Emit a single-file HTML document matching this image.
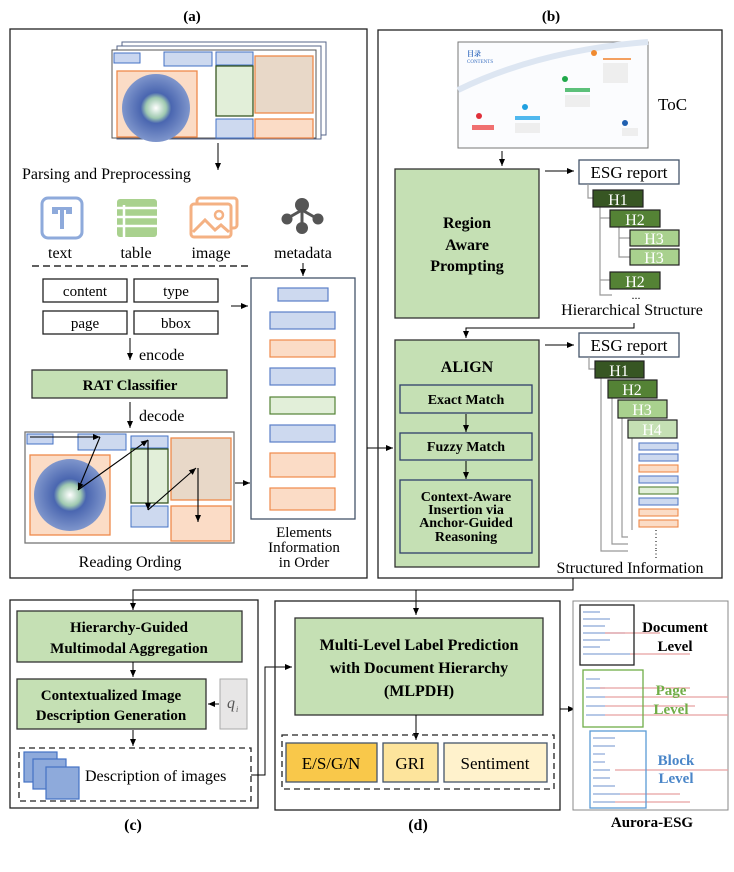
<!DOCTYPE html>
<html><head><meta charset="utf-8"><style>
html,body{margin:0;padding:0;background:#fff;}
svg{display:block;font-family:"Liberation Serif","Noto Serif CJK SC",serif;}
</style></head><body>
<svg width="734" height="872" viewBox="0 0 734 872" xmlns="http://www.w3.org/2000/svg">
<defs>
<marker id="ar" markerWidth="8" markerHeight="8" refX="7" refY="4" orient="auto" markerUnits="userSpaceOnUse">
<path d="M0,1 L7,4 L0,7 z" fill="#000"/></marker>
<radialGradient id="rg"><stop offset="0" stop-color="#fff"/><stop offset="0.3" stop-color="#9fc9b0"/><stop offset="0.45" stop-color="#4a66b0"/><stop offset="1" stop-color="#7f96cc"/></radialGradient>
</defs>
<g fill="none" stroke="#000" stroke-width="1.2">
<!-- panel labels -->
</g>
<text x="192" y="21" font-size="15" font-weight="bold" text-anchor="middle">(a)</text>
<text x="551" y="21" font-size="15" font-weight="bold" text-anchor="middle">(b)</text>
<!-- panel a -->
<rect x="10" y="29" width="357" height="549" fill="none" stroke="#222" stroke-width="1.3"/>
<!-- page stack -->
<rect x="122" y="42" width="204" height="93" fill="#fff" stroke="#56648a" stroke-width="1"/>
<rect x="117" y="46" width="204" height="93" fill="#fff" stroke="#56648a" stroke-width="1"/>
<rect x="112" y="50" width="204" height="88" fill="#fff" stroke="#555" stroke-width="1"/>
<rect x="114" y="53" width="26" height="10" fill="#c9d6f0" stroke="#4472c4"/>
<rect x="164" y="52" width="48" height="14" fill="#cdd9ef" stroke="#4472c4"/>
<rect x="117" y="71" width="80" height="66" fill="#fbdcc6" stroke="#ef8a4a" stroke-width="1.3"/>
<circle cx="156" cy="108" r="34" fill="url(#rg)"/>
<rect x="216" y="52" width="37" height="13" fill="#cdd9ef" stroke="#4472c4"/>
<rect x="216" y="66" width="37" height="50" fill="#e2efd9" stroke="#385723" stroke-width="1.3"/>
<rect x="216" y="119" width="37" height="19" fill="#cdd9ef" stroke="#4472c4"/>
<rect x="255" y="56" width="58" height="57" fill="#e8d8c8" stroke="#ef8a4a" stroke-width="1.3"/>
<rect x="255" y="119" width="58" height="19" fill="#fbdcc6" stroke="#ef8a4a" stroke-width="1.3"/>
<line x1="218" y1="143" x2="218" y2="170" stroke="#000" marker-end="url(#ar)"/>
<text x="22" y="179" font-size="16">Parsing and Preprocessing</text>
<!-- icons -->
<rect x="42" y="198" width="40" height="40" rx="6" fill="#fff" stroke="#8eaadb" stroke-width="3"/>
<path d="M52,207 H72 V214 H66 V210 H64 V229 H60 V210 H58 V214 H52 Z" fill="#8eaadb"/>
<rect x="117" y="199" width="40" height="38" rx="3" fill="#a9d18e"/>
<g stroke="#fff" stroke-width="2.5"><line x1="117" y1="208" x2="157" y2="208"/><line x1="117" y1="217" x2="157" y2="217"/><line x1="117" y1="226" x2="157" y2="226"/><line x1="124" y1="205" x2="124" y2="237"/></g>
<rect x="197" y="198" width="40" height="30" rx="3" fill="none" stroke="#f4b183" stroke-width="3"/>
<rect x="191" y="204" width="40" height="33" rx="3" fill="#fff" stroke="#f4b183" stroke-width="3"/>
<path d="M193,232 L205,220 L215,230 L221,225 L229,232" fill="none" stroke="#f4b183" stroke-width="3"/>
<circle cx="219" cy="215" r="4" fill="none" stroke="#f4b183" stroke-width="2.5"/>
<circle cx="302" cy="205" r="7" fill="#555"/><line x1="302" y1="210" x2="288" y2="218" stroke="#555" stroke-width="3"/><line x1="302" y1="210" x2="316" y2="218" stroke="#555" stroke-width="3"/><line x1="302" y1="210" x2="302" y2="225" stroke="#555" stroke-width="3"/>
<circle cx="287" cy="219" r="5.5" fill="#555"/><circle cx="318" cy="219" r="5.5" fill="#555"/><circle cx="302" cy="228" r="6" fill="#555"/>
<text x="60" y="258" font-size="16" text-anchor="middle">text</text>
<text x="136" y="258" font-size="16" text-anchor="middle">table</text>
<text x="211" y="258" font-size="16" text-anchor="middle">image</text>
<text x="303" y="258" font-size="16" text-anchor="middle">metadata</text>
<line x1="32" y1="266" x2="250" y2="266" stroke="#000" stroke-width="1.3" stroke-dasharray="7,4"/>
<line x1="303" y1="263" x2="303" y2="276" stroke="#000" marker-end="url(#ar)"/>
<g fill="#fff" stroke="#222" stroke-width="1.3">
<rect x="43" y="279" width="84" height="23"/><rect x="134" y="279" width="84" height="23"/>
<rect x="43" y="311" width="84" height="23"/><rect x="134" y="311" width="84" height="23"/></g>
<g font-size="15" text-anchor="middle"><text x="85" y="296">content</text><text x="176" y="296">type</text><text x="85" y="328">page</text><text x="176" y="328">bbox</text></g>
<line x1="231" y1="306" x2="248" y2="306" stroke="#000" marker-end="url(#ar)"/>
<line x1="130" y1="338" x2="130" y2="360" stroke="#000" marker-end="url(#ar)"/>
<text x="139" y="360" font-size="16">encode</text>
<rect x="32" y="370" width="195" height="28" fill="#c5e0b4" stroke="#333" stroke-width="1.3"/>
<text x="130" y="390" font-size="15" font-weight="bold" text-anchor="middle">RAT Classifier</text>
<line x1="130" y1="402" x2="130" y2="428" stroke="#000" marker-end="url(#ar)"/>
<text x="139" y="421" font-size="16">decode</text>
<!-- reading order image -->
<rect x="25" y="432" width="209" height="111" fill="#fff" stroke="#777" stroke-width="1.3"/>
<rect x="27" y="434" width="26" height="10" fill="#c9d6f0" stroke="#4472c4"/>
<rect x="78" y="434" width="48" height="16" fill="#cdd9ef" stroke="#4472c4"/>
<rect x="30" y="455" width="80" height="80" fill="#fbdcc6" stroke="#ef8a4a" stroke-width="1.3"/>
<circle cx="70" cy="495" r="36" fill="url(#rg)"/>
<rect x="131" y="436" width="37" height="12" fill="#cdd9ef" stroke="#4472c4"/>
<rect x="131" y="449" width="37" height="54" fill="#e2efd9" stroke="#385723" stroke-width="1.3"/>
<rect x="131" y="506" width="37" height="21" fill="#cdd9ef" stroke="#4472c4"/>
<rect x="171" y="438" width="60" height="62" fill="#e8d8c8" stroke="#ef8a4a" stroke-width="1.3"/>
<rect x="171" y="506" width="60" height="35" fill="#fbdcc6" stroke="#ef8a4a" stroke-width="1.3"/>
<g stroke="#000" stroke-width="1.1">
<line x1="30" y1="437" x2="100" y2="437" marker-end="url(#ar)"/>
<line x1="100" y1="437" x2="78" y2="490" marker-end="url(#ar)"/>
<line x1="78" y1="490" x2="148" y2="440" marker-end="url(#ar)"/>
<line x1="148" y1="440" x2="148" y2="510" marker-end="url(#ar)"/>
<line x1="148" y1="510" x2="196" y2="468" marker-end="url(#ar)"/>
<line x1="198" y1="468" x2="198" y2="522" marker-end="url(#ar)"/>
</g>
<line x1="235" y1="483" x2="250" y2="483" stroke="#000" marker-end="url(#ar)"/>
<text x="130" y="567" font-size="16" text-anchor="middle">Reading Ording</text>
<!-- elements -->
<rect x="251" y="278" width="104" height="241" fill="#fff" stroke="#44546a" stroke-width="1.3"/>
<rect x="278" y="288" width="50" height="13" fill="#cdd9ef" stroke="#5b7fc7" stroke-width="1.2"/>
<g stroke-width="1.2">
<rect x="270" y="312" width="65" height="17" fill="#cdd9ef" stroke="#5b7fc7"/>
<rect x="270" y="340" width="65" height="17" fill="#fbdcc6" stroke="#ef8a4a"/>
<rect x="270" y="368" width="65" height="17" fill="#cdd9ef" stroke="#5b7fc7"/>
<rect x="270" y="397" width="65" height="17" fill="#e2efd9" stroke="#548235"/>
<rect x="270" y="425" width="65" height="17" fill="#cdd9ef" stroke="#5b7fc7"/>
<rect x="270" y="453" width="65" height="24" fill="#fbdcc6" stroke="#ef8a4a"/>
<rect x="270" y="488" width="65" height="22" fill="#fbdcc6" stroke="#ef8a4a"/>
</g>
<g font-size="15" text-anchor="middle"><text x="304" y="537">Elements</text><text x="304" y="552">Information</text><text x="304" y="567">in Order</text></g>
<!-- a->b arrow -->
<line x1="367" y1="448" x2="393" y2="448" stroke="#000" marker-end="url(#ar)"/>
<!-- panel b -->
<rect x="378" y="30" width="344" height="548" fill="none" stroke="#222" stroke-width="1.3"/>
<rect x="458" y="42" width="190" height="106" fill="#fbfcfe" stroke="#777" stroke-width="1"/>
<path d="M458,90 Q540,50 648,42" fill="none" stroke="#dde6f2" stroke-width="6"/>
<text x="467" y="56" font-size="7" fill="#3a6fc0" font-weight="bold">目录</text>
<text x="467" y="63" font-size="5" fill="#3a6fc0">CONTENTS</text>
<circle cx="594" cy="53" r="3" fill="#f08a30"/><rect x="603" y="58" width="28" height="2" fill="#f3a060"/><rect x="603" y="63" width="25" height="20" fill="#eee"/>
<circle cx="565" cy="79" r="3" fill="#20a84a"/><rect x="565" y="88" width="25" height="4" fill="#5cc07a"/><rect x="565" y="95" width="25" height="12" fill="#eee"/>
<circle cx="479" cy="116" r="3" fill="#e0303a"/><rect x="472" y="125" width="22" height="5" fill="#f07070"/>
<circle cx="525" cy="107" r="3" fill="#20a0e0"/><rect x="515" y="116" width="25" height="4" fill="#50b8ee"/><rect x="515" y="123" width="25" height="10" fill="#eee"/>
<circle cx="625" cy="123" r="3" fill="#2060b0"/><rect x="622" y="128" width="16" height="8" fill="#eee"/>
<text x="658" y="110" font-size="17">ToC</text>
<line x1="502" y1="151" x2="502" y2="166" stroke="#000" marker-end="url(#ar)"/>
<rect x="395" y="169" width="144" height="149" fill="#c5e0b4" stroke="#333" stroke-width="1.3"/>
<g font-size="16" font-weight="bold" text-anchor="middle"><text x="467" y="228">Region</text><text x="467" y="250">Aware</text><text x="467" y="271">Prompting</text></g>
<line x1="545" y1="171" x2="574" y2="171" stroke="#000" marker-end="url(#ar)"/>
<rect x="579" y="160" width="100" height="24" fill="#fff" stroke="#44546a" stroke-width="1.3"/>
<text x="629" y="178" font-size="17" text-anchor="middle">ESG report</text>
<g fill="none" stroke="#999" stroke-width="1.2">
<path d="M588,184 V198 H593"/><path d="M600,207 V295 H612"/><path d="M600,218 H610"/><path d="M600,280 H610"/><path d="M619,227 V257 H630"/><path d="M619,238 H630"/>
</g>
<g stroke="#222" stroke-width="1.2">
<rect x="593" y="190" width="50" height="17" fill="#375623"/>
<rect x="610" y="210" width="50" height="17" fill="#548235"/>
<rect x="630" y="230" width="49" height="16" fill="#a9d18e"/>
<rect x="630" y="249" width="49" height="16" fill="#a9d18e"/>
<rect x="610" y="272" width="50" height="17" fill="#548235"/>
</g>
<g font-size="16" fill="#fff" text-anchor="middle"><text x="618" y="205">H1</text><text x="635" y="225">H2</text><text x="654" y="244">H3</text><text x="654" y="263">H3</text><text x="635" y="287">H2</text></g>
<text x="636" y="299" font-size="12" text-anchor="middle">...</text>
<text x="632" y="315" font-size="16" text-anchor="middle">Hierarchical Structure</text>
<path d="M634,323 V328 H466 V338" fill="none" stroke="#000" marker-end="url(#ar)"/>
<rect x="395" y="340" width="144" height="227" fill="#c5e0b4" stroke="#333" stroke-width="1.3"/>
<text x="467" y="372" font-size="16" font-weight="bold" text-anchor="middle">ALIGN</text>
<g fill="none" stroke="#2f3f6a" stroke-width="1.3">
<rect x="400" y="385" width="132" height="28"/><rect x="400" y="433" width="132" height="27"/><rect x="400" y="480" width="132" height="73"/></g>
<g font-size="14" font-weight="bold" text-anchor="middle">
<text x="466" y="404">Exact Match</text><text x="466" y="451">Fuzzy Match</text>
<text x="466" y="501">Context-Aware</text><text x="466" y="514">Insertion via</text><text x="466" y="527">Anchor-Guided</text><text x="466" y="541">Reasoning</text></g>
<line x1="466" y1="414" x2="466" y2="432" stroke="#000" marker-end="url(#ar)"/>
<line x1="466" y1="461" x2="466" y2="479" stroke="#000" marker-end="url(#ar)"/>
<line x1="545" y1="345" x2="574" y2="345" stroke="#000" marker-end="url(#ar)"/>
<rect x="579" y="333" width="100" height="24" fill="#fff" stroke="#44546a" stroke-width="1.3"/>
<text x="629" y="351" font-size="17" text-anchor="middle">ESG report</text>
<g fill="none" stroke="#999" stroke-width="1.2">
<path d="M589,357 V369 H595"/><path d="M601,378 V551 H628"/><path d="M612,398 V544 H628"/><path d="M622,418 V537 H628"/><path d="M632,438 V530"/>
</g>
<g stroke="#222" stroke-width="1.2">
<rect x="595" y="361" width="49" height="17" fill="#375623"/>
<rect x="608" y="380" width="49" height="18" fill="#548235"/>
<rect x="618" y="400" width="49" height="18" fill="#a9d18e"/>
<rect x="628" y="420" width="49" height="18" fill="#c5e0b4"/>
</g>
<g font-size="16" fill="#fff" text-anchor="middle"><text x="619" y="376">H1</text><text x="632" y="395">H2</text><text x="642" y="415">H3</text><text x="652" y="435">H4</text></g>
<g stroke-width="1.1">
<rect x="639" y="443" width="39" height="7" fill="#cdd9ef" stroke="#5b7fc7"/>
<rect x="639" y="454" width="39" height="7" fill="#cdd9ef" stroke="#5b7fc7"/>
<rect x="639" y="465" width="39" height="7" fill="#fbdcc6" stroke="#ef8a4a"/>
<rect x="639" y="476" width="39" height="7" fill="#cdd9ef" stroke="#5b7fc7"/>
<rect x="639" y="487" width="39" height="7" fill="#e2efd9" stroke="#548235"/>
<rect x="639" y="498" width="39" height="7" fill="#cdd9ef" stroke="#5b7fc7"/>
<rect x="639" y="509" width="39" height="7" fill="#fbdcc6" stroke="#ef8a4a"/>
<rect x="639" y="520" width="39" height="7" fill="#fbdcc6" stroke="#ef8a4a"/>
</g>
<g font-size="10" text-anchor="middle"><text x="656" y="537">⋮</text><text x="656" y="548">⋮</text><text x="656" y="557">⋮</text></g>
<text x="630" y="573" font-size="16" text-anchor="middle">Structured Information</text>
<!-- connectors to bottom -->
<path d="M573,578 V590 H133 V610" fill="none" stroke="#000" marker-end="url(#ar)"/>
<line x1="416" y1="590" x2="416" y2="615" stroke="#000" marker-end="url(#ar)"/>
<!-- panel c -->
<rect x="10" y="600" width="248" height="208" fill="none" stroke="#222" stroke-width="1.3"/>
<rect x="17" y="611" width="225" height="51" fill="#c5e0b4" stroke="#333" stroke-width="1.3"/>
<g font-size="15" font-weight="bold" text-anchor="middle"><text x="129" y="632">Hierarchy-Guided</text><text x="129" y="653">Multimodal Aggregation</text></g>
<line x1="133" y1="662" x2="133" y2="677" stroke="#000" marker-end="url(#ar)"/>
<rect x="17" y="679" width="189" height="50" fill="#c5e0b4" stroke="#333" stroke-width="1.3"/>
<g font-size="15" font-weight="bold" text-anchor="middle"><text x="111" y="700">Contextualized Image</text><text x="111" y="720">Description Generation</text></g>
<rect x="220" y="679" width="27" height="50" fill="#e7e6e6" stroke="#aaa"/>
<text x="227" y="708" font-size="16" font-style="italic" fill="#555">q</text><text x="236" y="712" font-size="8" font-style="italic" fill="#555">i</text>
<line x1="219" y1="704" x2="208" y2="704" stroke="#000" marker-end="url(#ar)"/>
<line x1="133" y1="730" x2="133" y2="746" stroke="#000" marker-end="url(#ar)"/>
<rect x="19" y="748" width="232" height="53" fill="none" stroke="#222" stroke-width="1.3" stroke-dasharray="6,4"/>
<g fill="#8eaadb" stroke="#4472c4" stroke-width="1.2"><rect x="24" y="752" width="33" height="30"/><rect x="33" y="759" width="33" height="30"/><rect x="46" y="767" width="33" height="32"/></g>
<text x="85" y="781" font-size="16">Description of images</text>
<path d="M251,775 H265 V667 H292" fill="none" stroke="#000" marker-end="url(#ar)"/>
<text x="133" y="830" font-size="16" font-weight="bold" text-anchor="middle">(c)</text>
<!-- panel d -->
<rect x="275" y="601" width="285" height="209" fill="none" stroke="#222" stroke-width="1.3"/>
<rect x="295" y="618" width="248" height="97" fill="#c5e0b4" stroke="#333" stroke-width="1.3"/>
<g font-size="16" font-weight="bold" text-anchor="middle"><text x="419" y="650">Multi-Level Label Prediction</text><text x="419" y="673">with Document Hierarchy</text><text x="419" y="696">(MLPDH)</text></g>
<line x1="416" y1="715" x2="416" y2="740" stroke="#000" marker-end="url(#ar)"/>
<rect x="282" y="735" width="272" height="54" fill="none" stroke="#222" stroke-width="1.3" stroke-dasharray="6,4"/>
<g stroke="#44546a" stroke-width="1.3">
<rect x="286" y="743" width="91" height="39" fill="#f9c84a"/>
<rect x="383" y="743" width="55" height="39" fill="#fde49c"/>
<rect x="444" y="743" width="103" height="39" fill="#fff2cc"/></g>
<g font-size="17" text-anchor="middle"><text x="331" y="769">E/S/G/N</text><text x="410" y="769">GRI</text><text x="495" y="769">Sentiment</text></g>
<text x="418" y="830" font-size="16" font-weight="bold" text-anchor="middle">(d)</text>
<line x1="560" y1="709" x2="575" y2="709" stroke="#000" marker-end="url(#ar)"/>
<!-- Aurora-ESG -->
<rect x="573" y="601" width="155" height="209" fill="#fff" stroke="#888" stroke-width="1"/>
<g stroke="#8aa6d8" stroke-width="1.2">
<line x1="583" y1="612" x2="600" y2="612"/><line x1="583" y1="619" x2="610" y2="619"/><line x1="583" y1="626" x2="605" y2="626"/><line x1="583" y1="633" x2="625" y2="633"/><line x1="583" y1="640" x2="610" y2="640"/><line x1="583" y1="647" x2="600" y2="647"/><line x1="583" y1="654" x2="630" y2="654"/>
<line x1="586" y1="679" x2="600" y2="679"/><line x1="586" y1="688" x2="605" y2="688"/><line x1="586" y1="697" x2="605" y2="697"/><line x1="586" y1="706" x2="605" y2="706"/><line x1="586" y1="715" x2="605" y2="715"/>
<line x1="593" y1="738" x2="615" y2="738"/><line x1="593" y1="746" x2="615" y2="746"/><line x1="593" y1="754" x2="605" y2="754"/><line x1="593" y1="762" x2="605" y2="762"/><line x1="593" y1="770" x2="610" y2="770"/><line x1="593" y1="778" x2="610" y2="778"/><line x1="593" y1="786" x2="615" y2="786"/><line x1="593" y1="794" x2="620" y2="794"/><line x1="593" y1="802" x2="615" y2="802"/>
</g>
<g stroke="#e8a0a0" stroke-width="1.2"><line x1="605" y1="633" x2="660" y2="633"/><line x1="630" y1="654" x2="690" y2="654"/><line x1="600" y1="688" x2="690" y2="688"/><line x1="605" y1="697" x2="728" y2="697"/><line x1="605" y1="706" x2="695" y2="706"/><line x1="605" y1="715" x2="728" y2="715"/><line x1="615" y1="770" x2="728" y2="770"/><line x1="620" y1="794" x2="680" y2="794"/><line x1="615" y1="802" x2="690" y2="802"/></g>
<rect x="580" y="605" width="54" height="60" fill="none" stroke="#222" stroke-width="1.3"/>
<rect x="583" y="670" width="60" height="57" fill="none" stroke="#70ad47" stroke-width="1.3"/>
<rect x="590" y="731" width="56" height="77" fill="none" stroke="#5b9bd5" stroke-width="1.3"/>
<g font-size="15" font-weight="bold" text-anchor="middle">
<text x="675" y="632">Document</text><text x="675" y="651">Level</text>
<text x="671" y="695" fill="#70ad47">Page</text><text x="671" y="714" fill="#70ad47">Level</text>
<text x="676" y="765" fill="#4a86c8">Block</text><text x="676" y="783" fill="#4a86c8">Level</text></g>
<text x="652" y="827" font-size="15" font-weight="bold" text-anchor="middle">Aurora-ESG</text>
</svg>
</body></html>
